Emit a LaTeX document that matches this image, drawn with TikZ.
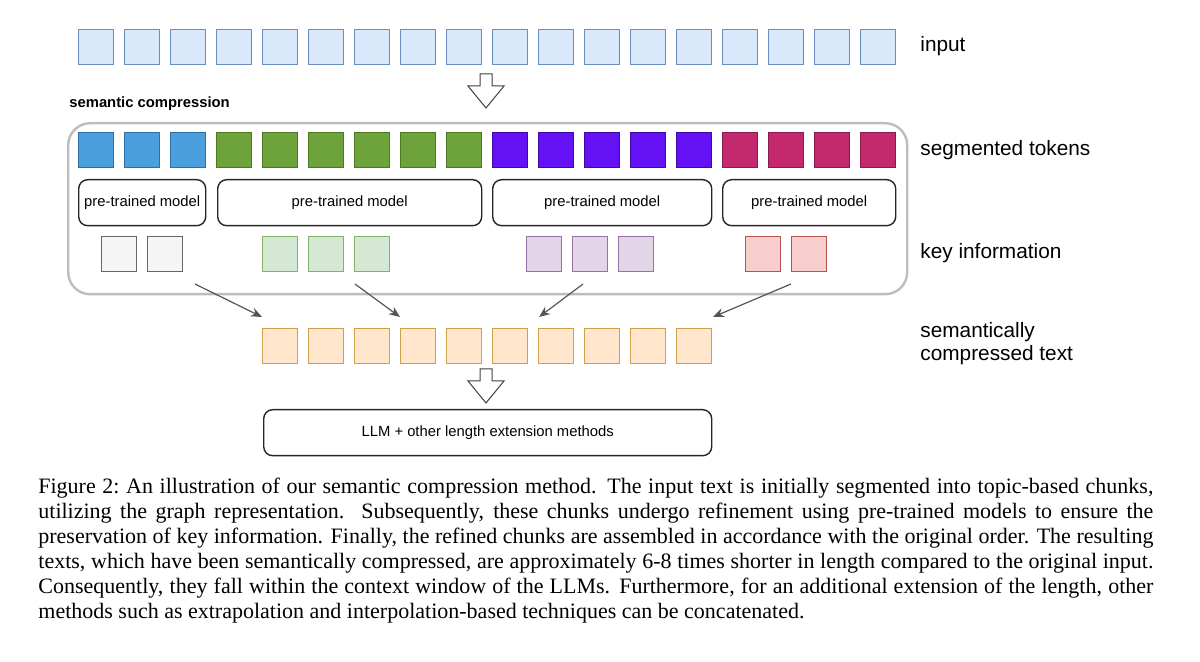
\documentclass[tikz,border=0pt]{standalone}
\usepackage{fontspec}
\setmainfont{Liberation Serif}
\setsansfont{Liberation Sans}
\usetikzlibrary{arrows.meta,calc}
\definecolor{inF}{HTML}{DAE8FC}\definecolor{inD}{HTML}{6C8EBF}
\definecolor{bF}{HTML}{4C9FDD}\definecolor{bD}{HTML}{2E6EA6}
\definecolor{gF}{HTML}{6EA23A}\definecolor{gD}{HTML}{4B7A23}
\definecolor{pF}{HTML}{6412F5}\definecolor{pD}{HTML}{3C0AA0}
\definecolor{mF}{HTML}{C4296E}\definecolor{mD}{HTML}{8A1A4B}
\definecolor{kgF}{HTML}{F5F5F5}\definecolor{kgD}{HTML}{666666}
\definecolor{kgrF}{HTML}{D5E8D4}\definecolor{kgrD}{HTML}{82B366}
\definecolor{kpF}{HTML}{E1D5E7}\definecolor{kpD}{HTML}{9673A6}
\definecolor{krF}{HTML}{F8CECC}\definecolor{krD}{HTML}{B85450}
\definecolor{oF}{HTML}{FFE6CC}\definecolor{oD}{HTML}{CFA04A}
\definecolor{frameC}{HTML}{BDBDBD}
\definecolor{arrC}{HTML}{555555}
\tikzset{
  tok/.style={draw, minimum width=17.5pt, minimum height=17.5pt, inner sep=0pt, anchor=north west, line width=0.5pt},
  pm/.style={draw=black!85, line width=0.7pt, rounded corners=4.5pt, anchor=north west, minimum height=23pt, inner sep=0pt, font=\sffamily\fontsize{7.4}{9}\selectfont},
  lab/.style={anchor=west, inner sep=0pt, font=\sffamily\fontsize{10.4}{11.5}\selectfont},
  hol/.style={draw=black!75, line width=0.5pt, fill=white},
  con/.style={draw=arrC, line width=0.6pt, -{Stealth[length=5.5pt,width=4.5pt]}},
  capline/.style={anchor=base west, inner sep=0pt, font=\fontsize{11}{12.5}\selectfont}
}
\begin{document}
\begin{tikzpicture}[x=0.5pt,y=-0.5pt]
\useasboundingbox (0,0) rectangle (1200,662);
\fill[white] (0,0) rectangle (1200,662);
% input row
\foreach \i in {0,...,17} \node[tok, fill=inF, draw=inD] (in\i) at ({78+46*\i},29) {};
\node[lab] (linput) at (920,46) {input};
% hollow arrow 1
\draw[hol] (480,74) -- (492,74) -- (492,86) -- (504,86) -- (486,108) -- (468,86) -- (480,86) -- cycle;
% semantic compression frame
\node[anchor=base west, inner sep=0pt, font=\sffamily\bfseries\fontsize{7.4}{9}\selectfont] (sctitle) at (69,108) {semantic compression};
\node[draw=frameC, line width=1.2pt, rounded corners=11pt, anchor=north west, minimum width=419.5pt, minimum height=85.5pt, inner sep=0pt] (sc) at (67,122) {};
% segmented tokens
\foreach \i in {0,...,2} \node[tok, fill=bF, draw=bD] (seg\i) at ({78+46*\i},132) {};
\foreach \i in {3,...,8} \node[tok, fill=gF, draw=gD] (seg\i) at ({78+46*\i},132) {};
\foreach \i in {9,...,13} \node[tok, fill=pF, draw=pD] (seg\i) at ({78+46*\i},132) {};
\foreach \i in {14,...,17} \node[tok, fill=mF, draw=mD] (seg\i) at ({78+46*\i},132) {};
\node[lab] (lseg) at (920,150) {segmented tokens};
% pre-trained models
\node[pm, minimum width=63.5pt] (pm1) at (78,179) {pre-trained model};
\node[pm, minimum width=132pt] (pm2) at (217,179) {pre-trained model};
\node[pm, minimum width=109.5pt] (pm3) at (492,179) {pre-trained model};
\node[pm, minimum width=86.5pt] (pm4) at (722,179) {pre-trained model};
% key information
\node[tok, fill=kgF, draw=kgD] (k0) at (101,236) {};
\node[tok, fill=kgF, draw=kgD] (k1) at (147,236) {};
\node[tok, fill=kgrF, draw=kgrD] (k2) at (262,236) {};
\node[tok, fill=kgrF, draw=kgrD] (k3) at (308,236) {};
\node[tok, fill=kgrF, draw=kgrD] (k4) at (354,236) {};
\node[tok, fill=kpF, draw=kpD] (k5) at (526,236) {};
\node[tok, fill=kpF, draw=kpD] (k6) at (572,236) {};
\node[tok, fill=kpF, draw=kpD] (k7) at (618,236) {};
\node[tok, fill=krF, draw=krD] (k8) at (745,236) {};
\node[tok, fill=krF, draw=krD] (k9) at (791,236) {};
\node[lab] (lkey) at (920,253) {key information};
% compressed text
\foreach \i in {0,...,9} \node[tok, fill=oF, draw=oD] (c\i) at ({262+46*\i},328) {};
\node[lab, align=left] (lcomp) at (920,344) {semantically\\compressed text};
% connectors
\coordinate (s1) at ($(k1.south east)+(12,12)$);
\coordinate (e1) at ($(c0.north west)+(0,-11)$);
\coordinate (s2) at ($(k4.south west)+(1,12)$);
\coordinate (e2) at ($(c3.north west)+(0,-11)$);
\coordinate (s3) at ($(k6.south west)+(11,12)$);
\coordinate (e3) at ($(c6.north west)+(1,-11)$);
\coordinate (s4) at ($(k9.south west)+(0,12)$);
\coordinate (e4) at ($(c9.north east)+(1,-11)$);
\draw[con] (s1) -- (e1);
\draw[con] (s2) -- (e2);
\draw[con] (s3) -- (e3);
\draw[con] (s4) -- (e4);
% hollow arrow 2
\draw[hol] (480,369) -- (492,369) -- (492,381) -- (504,381) -- (486,403) -- (468,381) -- (480,381) -- cycle;
% LLM box
\node[pm, minimum width=224pt] (llm) at (263,409) {LLM + other length extension methods};
% caption
\node[capline] (cap1) at (38,493.7) {\makebox[557.5pt][s]{Figure 2:\ An illustration of our semantic compression method. The input text is initially segmented into topic-based chunks,}};
\node[capline] (cap2) at (38,518.7) {\makebox[557.5pt][s]{utilizing the graph representation.\ \ Subsequently, these chunks undergo refinement using pre-trained models to ensure the}};
\node[capline] (cap3) at (38,543.7) {\makebox[557.5pt][s]{preservation of key information. Finally, the refined chunks are assembled in accordance with the original order. The resulting}};
\node[capline] (cap4) at (38,568.7) {\makebox[557.5pt][s]{texts, which have been semantically compressed, are approximately 6-8 times shorter in length compared to the original input.}};
\node[capline] (cap5) at (38,593.7) {\makebox[557.5pt][s]{Consequently, they fall within the context window of the LLMs. Furthermore, for an additional extension of the length, other}};
\node[capline] (cap6) at (38,618.7) {methods such as extrapolation and interpolation-based techniques can be concatenated.};
\end{tikzpicture}
\end{document}
